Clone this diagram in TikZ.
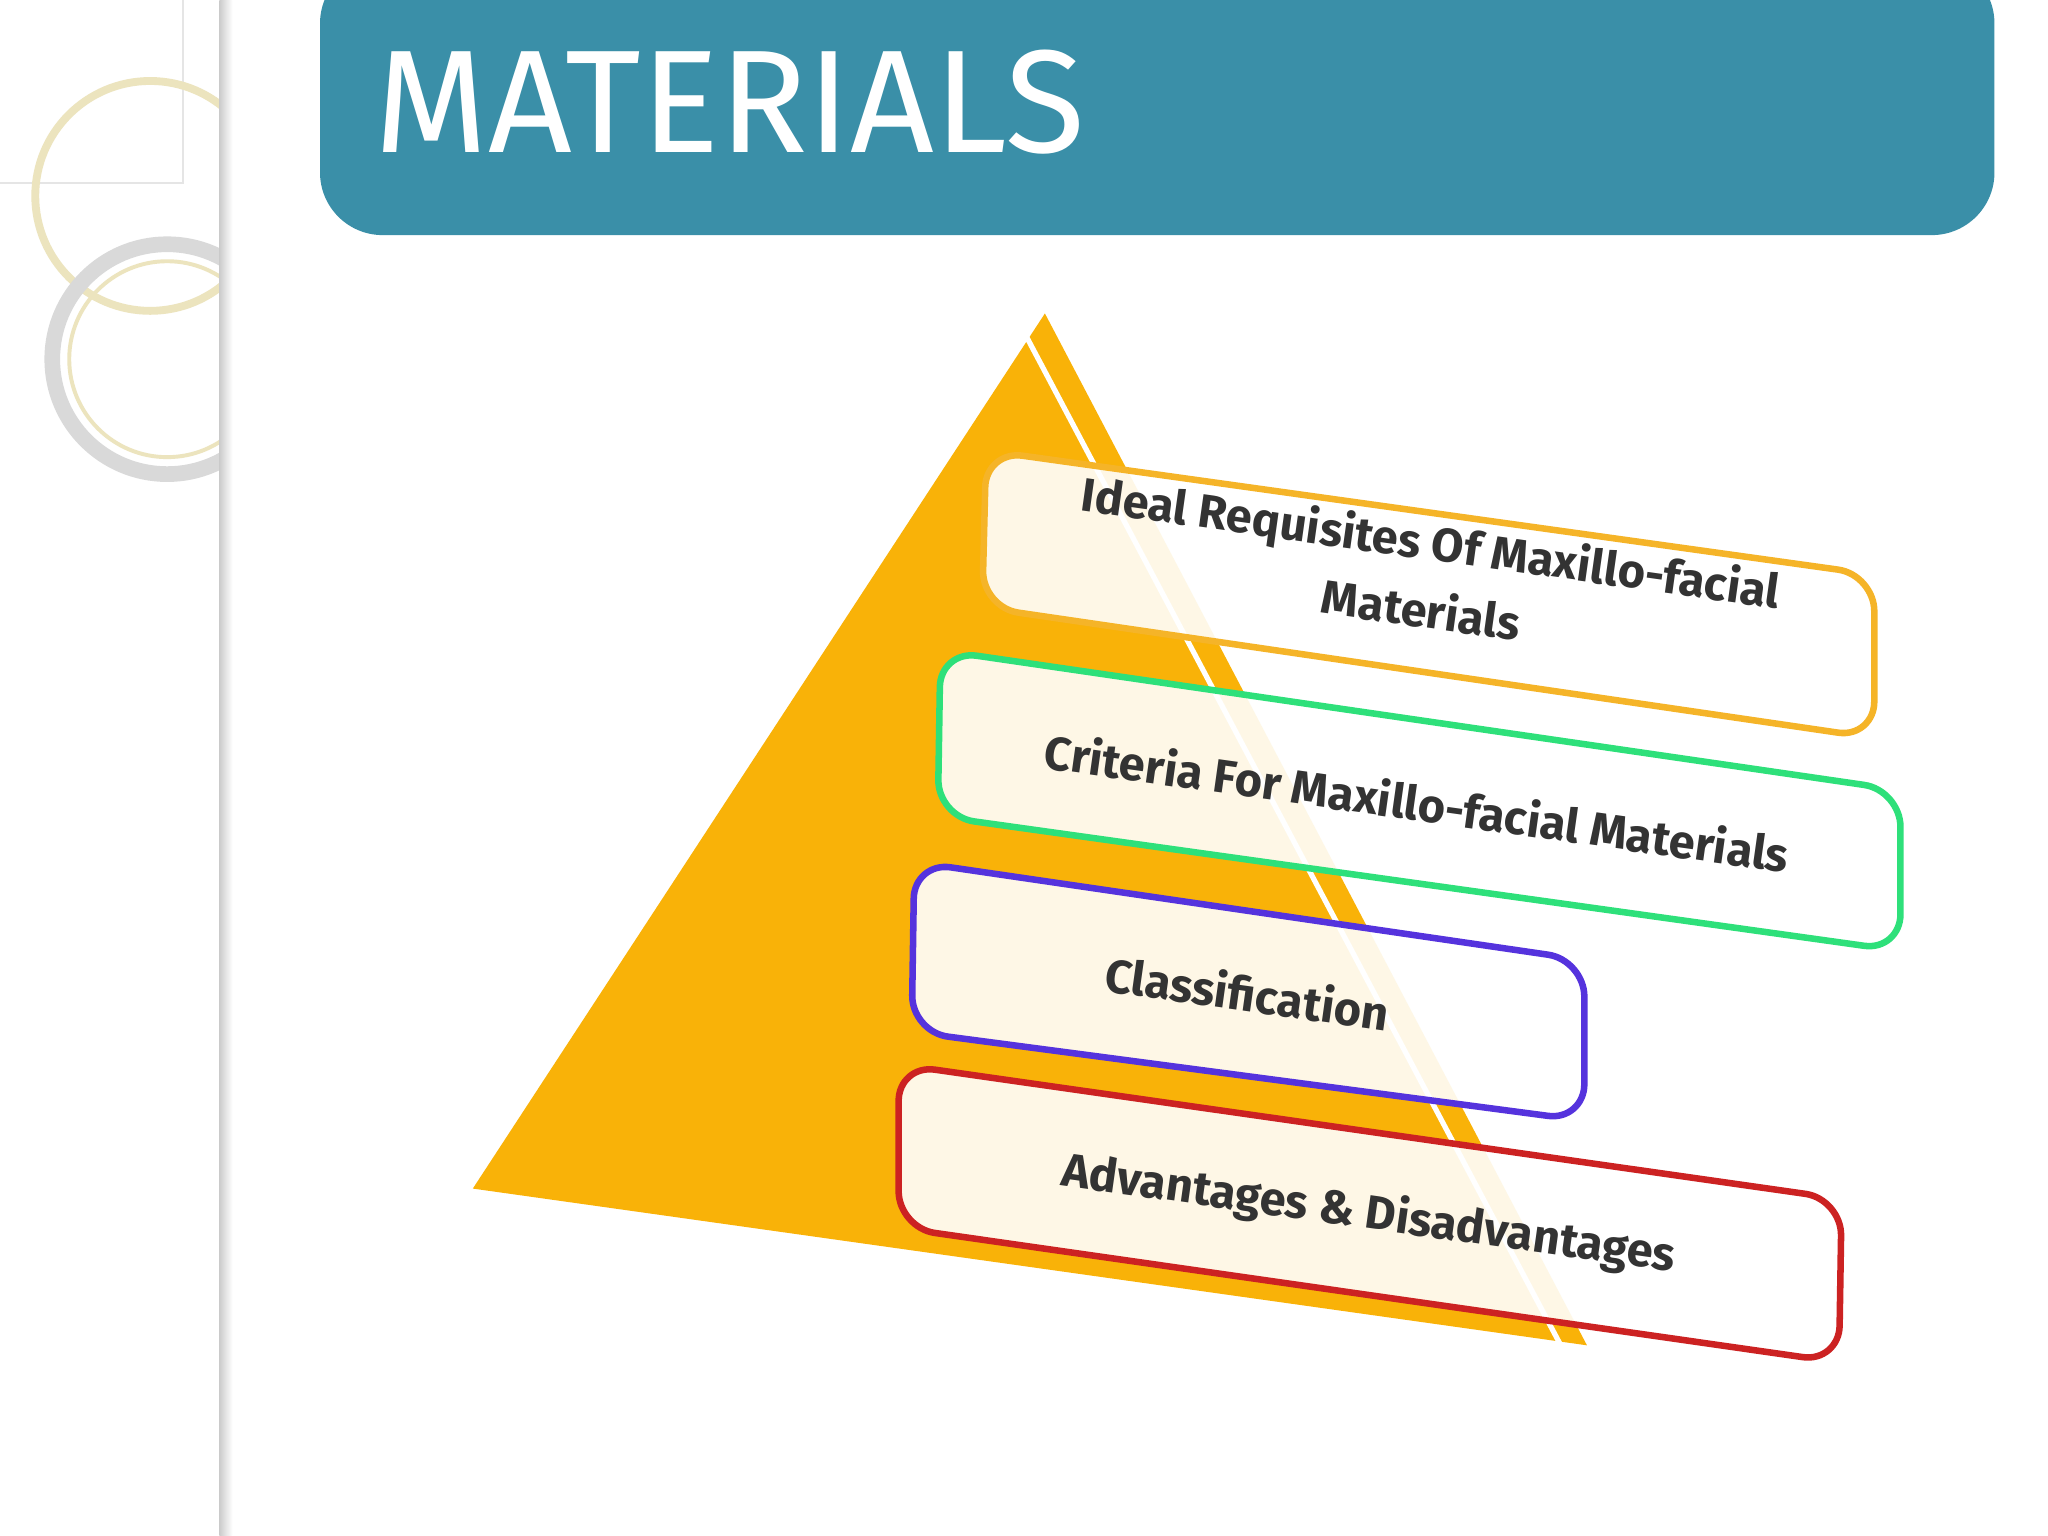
\documentclass[tikz,border=0pt]{standalone}
\usepackage{fontspec}
\setmainfont{Fira Sans}
\definecolor{teal1}{RGB}{58,143,168}
\definecolor{pyr}{RGB}{249,178,8}
\definecolor{c1}{RGB}{245,180,40}
\definecolor{c2}{RGB}{46,224,122}
\definecolor{c3}{RGB}{85,51,221}
\definecolor{c4}{RGB}{204,34,34}
\definecolor{cream}{RGB}{236,228,190}
\begin{document}
\begin{tikzpicture}[x=0.5pt,y=-0.5pt,
  tbox/.style={line width=2.5pt,rounded corners=14pt,fill=white,fill opacity=0.9},
  ttxt/.style={font=\fontsize{18}{26}\selectfont\bfseries,text=black!80,rotate=-8,align=center}]
\useasboundingbox (0,0) rectangle (1568,1176);
\fill[white] (0,0) rectangle (1568,1176);
% left decorations
\draw[black!10,line width=1pt] (0,140) -- (140,140) -- (140,0);
\draw[cream,line width=3pt] (115,150) circle (88);
\draw[black!15,line width=6pt] (128,275) circle (88);
\draw[cream,line width=1.5pt] (128,275) circle (75);
\fill[white] (172,0) rectangle (1568,1176);
\shade[left color=black!20,right color=white] (168,0) rectangle (178,1176);
% title
\fill[rounded corners=24pt,fill=teal1] (245,-30) rectangle (1527,180);
\node[anchor=base west,text=white,font=\fontsize{56}{60}\selectfont] (title) at (280,117) {MATERIALS};
% pyramid
\fill[pyr] (800,240) -- (1215,1030) -- (362,910) -- cycle;
\draw[white,line width=2pt] (786,258) -- (1196,1032);
% boxes
\draw[tbox,draw=c1] (755,345) -- (1435,440) -- (1435,565) -- (752,465) -- cycle;
\draw[tbox,draw=c2] (720,498) -- (1455,605) -- (1455,728) -- (718,625) -- cycle;
\draw[tbox,draw=c3] (700,660) -- (1213,735) -- (1213,858) -- (698,790) -- cycle;
\draw[tbox,draw=c4] (688,815) -- (1410,918) -- (1408,1043) -- (688,940) -- cycle;
\node[ttxt] (t1) at (1092,440) {Ideal Requisites Of Maxillo-facial\\Materials};
\node[ttxt] (t2) at (1085,614) {Criteria For Maxillo-facial Materials};
\node[ttxt] (t3) at (955,760) {Classification};
\node[ttxt] (t4) at (1048,930) {Advantages \& Disadvantages};
\end{tikzpicture}
\end{document}
